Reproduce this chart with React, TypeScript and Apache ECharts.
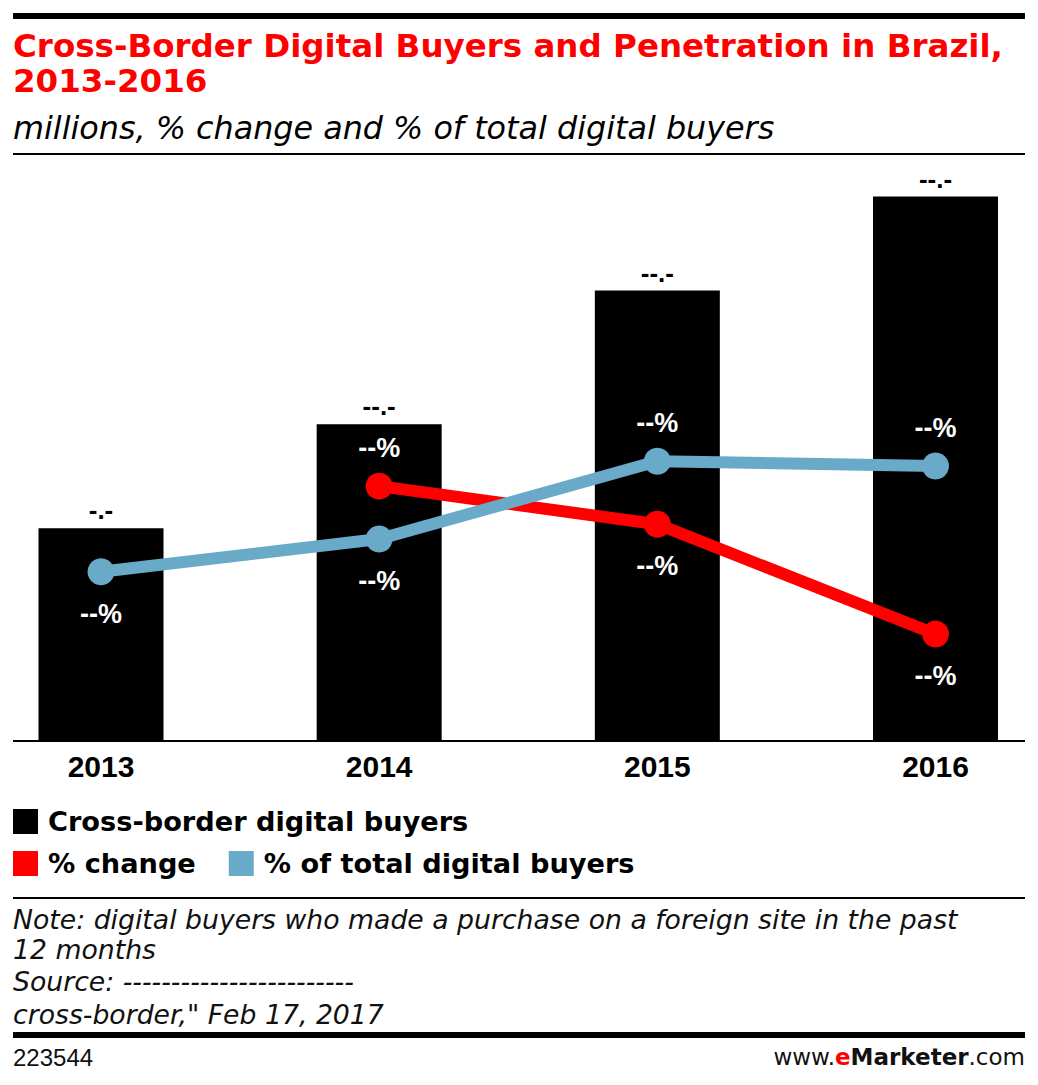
import React, { useEffect, useRef } from "react";
import * as echarts from "echarts";

const categories = ["2013", "2014", "2015", "2016"];
const buyers = [8.6, 12.8, 18.2, 22.0];
const pctChange: (number | string)[] = ["-", 42.9, 36.5, 18.0];
const pctOfTotal = [28.5, 34.0, 47.1, 46.3];

const changeLabelPos = ["top", "top", "bottom", "bottom"];
const totalLabelPos = ["bottom", "bottom", "top", "top"];

const FONT = "'Liberation Sans', Arial, sans-serif";
const WIDE = "'DejaVu Sans', 'Liberation Sans', sans-serif";
const RED = "#ff0000";
const BLUE = "#69aac9";

export default function App() {
  const ref = useRef<HTMLDivElement>(null);
  useEffect(() => {
    if (!ref.current) return;
    const chart = echarts.init(ref.current, null, { renderer: "svg" });

    const pctLabel = (pos: string) => ({
      show: true,
      position: pos,
      distance: pos === "top" ? 11 : 15,
      formatter: () => "--%",
      color: "#ffffff",
      fontFamily: FONT,
      fontWeight: "bold",
      fontSize: 27,
    });

    const hr = (y: number, h: number) => ({
      type: "rect",
      shape: { x: 13, y, width: 1012, height: h },
      style: { fill: "#000" },
      silent: true,
    });
    const txt = (x: number, y: number, text: string, size: number, extra: any = {}) => ({
      type: "text",
      x,
      y,
      style: {
        text,
        fontFamily: WIDE,
        fontSize: size,
        fill: "#000",
        verticalAlign: "middle",
        align: "left",
        ...extra,
      },
      silent: true,
    });

    const legendText = { fontFamily: WIDE, fontWeight: "bold", fontSize: 27.2, color: "#000", padding: [0, 0, 0, 5] };

    chart.setOption({
      animation: false,
      backgroundColor: "#ffffff",
      grid: { left: 101, right: 102.5, top: 147, bottom: 344, containLabel: false },
      xAxis: {
        type: "category",
        data: categories,
        boundaryGap: false,
        axisLine: { show: false },
        axisTick: { show: false },
        splitLine: { show: false },
        axisLabel: {
          margin: 10,
          color: "#000",
          fontFamily: FONT,
          fontWeight: "bold",
          fontSize: 30,
        },
      },
      yAxis: [
        { type: "value", min: 0, max: 24, show: false },
        { type: "value", min: 0, max: 100, show: false },
      ],
      legend: [
        {
          left: 13,
          top: 808,
          padding: 0,
          orient: "horizontal",
          icon: "rect",
          itemWidth: 25,
          itemHeight: 25,
          selectedMode: false,
          data: ["Cross-border digital buyers"],
          textStyle: legendText,
        },
        {
          left: 13,
          top: 850,
          padding: 0,
          orient: "horizontal",
          icon: "rect",
          itemWidth: 25,
          itemHeight: 25,
          itemGap: 33,
          selectedMode: false,
          data: ["% change", "% of total digital buyers"],
          textStyle: legendText,
        },
      ],
      series: [
        {
          name: "Cross-border digital buyers",
          type: "bar",
          data: buyers,
          barWidth: 125,
          clip: false,
          itemStyle: { color: "#000" },
          label: {
            show: true,
            position: "top",
            distance: 5,
            formatter: (p: any) => (p.value < 10 ? "-.-" : "--.-"),
            color: "#000",
            fontFamily: FONT,
            fontWeight: "bold",
            fontSize: 26,
          },
          z: 1,
        },
        {
          name: "% change",
          type: "line",
          yAxisIndex: 1,
          data: pctChange.map((v, i) => ({ value: v, label: pctLabel(changeLabelPos[i]) })),
          symbol: "circle",
          symbolSize: 27,
          lineStyle: { width: 12, color: RED },
          itemStyle: { color: RED },
          z: 3,
        },
        {
          name: "% of total digital buyers",
          type: "line",
          yAxisIndex: 1,
          data: pctOfTotal.map((v, i) => ({ value: v, label: pctLabel(totalLabelPos[i]) })),
          symbol: "circle",
          symbolSize: 27,
          lineStyle: { width: 12, color: BLUE },
          itemStyle: { color: BLUE },
          z: 4,
        },
      ],
      graphic: [
        hr(13, 6),
        txt(13, 28.5, "Cross-Border Digital Buyers and Penetration in Brazil,\n2013-2016", 32.5, {
          fill: RED,
          fontWeight: "bold",
          verticalAlign: "top",
          lineHeight: 35,
        }),
        txt(13, 127, "millions, % change and % of total digital buyers", 31.8, { fontStyle: "italic" }),
        hr(153, 2),
        {
          type: "line",
          shape: { x1: 13, y1: 741, x2: 1025, y2: 741 },
          style: { stroke: "#000", lineWidth: 2 },
          silent: true,
          z: 10,
        },
        hr(897, 2),
        txt(13, 919, "Note: digital buyers who made a purchase on a foreign site in the past", 26.7, { fontStyle: "italic", fill: "#111" }),
        txt(13, 949, "12 months", 26.7, { fontStyle: "italic", fill: "#111" }),
        txt(13, 981, "Source: ------------------------", 26.7, { fontStyle: "italic", fill: "#111" }),
        txt(13, 1014, "cross-border,\" Feb 17, 2017", 26.7, { fontStyle: "italic", fill: "#111" }),
        hr(1032, 6),
        txt(13, 1057, "223544", 24, { fill: "#111", fontFamily: FONT }),
        {
          type: "text",
          x: 1025,
          y: 1057,
          style: {
            text: "{a|www.}{b|e}{c|Marketer}{a|.com}",
            align: "right",
            verticalAlign: "middle",
            rich: {
              a: { fontFamily: WIDE, fontSize: 23, fill: "#111", color: "#111" },
              b: { fontFamily: WIDE, fontSize: 23, fontWeight: "bold", fill: RED, color: RED },
              c: { fontFamily: WIDE, fontSize: 23, fontWeight: "bold", fill: "#111", color: "#111" },
            },
          },
          silent: true,
        },
      ],
    });

    return () => chart.dispose();
  }, []);

  return <div ref={ref} style={{ position: "absolute", left: 0, top: 0, width: 1038, height: 1085 }} />;
}
